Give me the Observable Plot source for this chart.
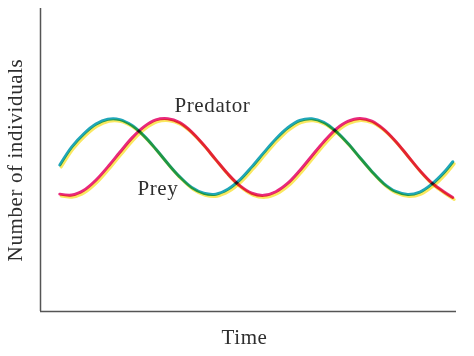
<!DOCTYPE html>
<html>
<head>
<meta charset="utf-8">
<script src="https://cdn.jsdelivr.net/npm/d3@7"></script>
<script src="https://cdn.jsdelivr.net/npm/@observablehq/plot@0.6"></script>
<style>
  html, body { margin: 0; padding: 0; background: #fff; }
  #chart svg { display: block; }
  #chart svg text { letter-spacing: 0.6px; }
</style>
</head>
<body>
<div id="chart"></div>
<script>
// Time (arbitrary units)
const time = [5, 8, 11, 14, 17, 20, 23, 26, 29, 32, 35, 38, 41, 44, 47, 50, 53, 56, 59, 62, 65, 68, 71, 74, 77, 80, 83, 86, 89, 92, 95, 98, 101, 103.25];
// Number of individuals (arbitrary units)
const prey = [48.0, 54.0, 58.3, 61.5, 63.1, 63.0, 61.1, 57.7, 53.3, 48.5, 44.1, 40.6, 38.7, 38.4, 40.0, 43.1, 47.4, 52.1, 56.6, 60.3, 62.7, 63.3, 62.1, 59.2, 55.2, 50.5, 45.9, 41.9, 39.3, 38.3, 39.1, 41.7, 45.5, 49.1];
const predator = [38.4, 38.1, 39.7, 43.0, 47.4, 52.2, 56.9, 60.6, 62.9, 63.3, 62.0, 58.9, 54.6, 49.8, 45.1, 41.2, 38.7, 38.0, 39.2, 42.0, 46.2, 51.0, 55.7, 59.8, 62.4, 63.4, 62.5, 59.8, 55.8, 51.0, 46.2, 42.1, 39.2, 37.3];
const labels = ["Predator", "Prey"];
const xLabel = "Time";
const yLabel = "Number of individuals";

const rows = time.map((t, i) => ({t, prey: prey[i], predator: predator[i]}));

const font = "'Liberation Serif', 'Times New Roman', serif";
const textColor = "#2e2e2e";
const lineW = 3;

function twoPlate(yField, c1, c2) {
  return [
    Plot.line(rows, {x: "t", y: yField, curve: "catmull-rom", stroke: c1, strokeWidth: lineW, dx: -0.7, dy: -1.0, mixBlendMode: "multiply"}),
    Plot.line(rows, {x: "t", y: yField, curve: "catmull-rom", stroke: c2, strokeWidth: lineW, dx: 0.7, dy: 1.0, mixBlendMode: "multiply"})
  ];
}

const chart = Plot.plot({
  width: 474,
  height: 356,
  marginLeft: 40,
  marginRight: 18,
  marginTop: 8,
  marginBottom: 45,
  x: {domain: [0, 104], axis: null},
  y: {domain: [0, 100], axis: null},
  style: {fontFamily: font, background: "#fff"},
  marks: [
    Plot.ruleX([0], {stroke: "#555", strokeWidth: 1.5}),
    Plot.ruleY([0], {stroke: "#555", strokeWidth: 1.5}),
    ...twoPlate("prey", "#1fa6b8", "#fae860"),
    ...twoPlate("predator", "#e8287c", "#fae860"),
    Plot.text([labels[0]], {x: 33.5, y: 65.7, textAnchor: "start", lineAnchor: "bottom", fontSize: 21, fill: textColor}),
    Plot.text([labels[1]], {x: 24.25, y: 38.6, textAnchor: "start", lineAnchor: "bottom", fontSize: 21, fill: textColor}),
    Plot.text([xLabel], {x: 51, frameAnchor: "bottom", textAnchor: "middle", lineAnchor: "bottom", dy: 32, fontSize: 21, fill: textColor}),
    Plot.text([yLabel], {frameAnchor: "left", textAnchor: "middle", lineAnchor: "middle", rotate: -90, dx: -25, fontSize: 21, fill: textColor})
  ]
});
document.getElementById("chart").appendChild(chart);
</script>
</body>
</html>
